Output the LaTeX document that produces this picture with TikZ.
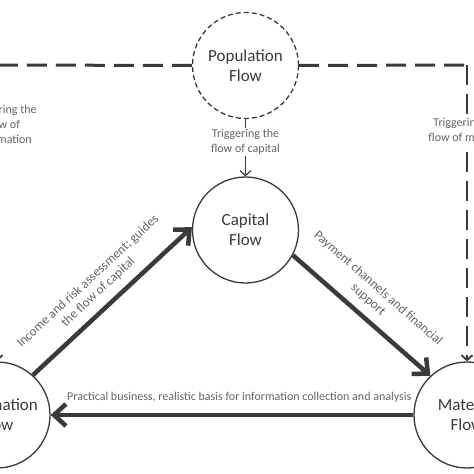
\documentclass[tikz,border=0pt]{standalone}
\usepackage{fontspec}
\setmainfont{Carlito}
\usetikzlibrary{arrows.meta}
\definecolor{flowline}{HTML}{3A3A3A}
\definecolor{flowtext}{HTML}{646464}
\tikzstyle{flow_node}=[circle, draw=flowline, line width=1.3pt, minimum size=106pt, inner sep=0pt, align=center, text=flowline, font=\fontsize{17}{20}\selectfont]
\tikzstyle{flow_dashed}=[flow_node, dash pattern=on 5pt off 3pt]
\tikzstyle{flow_thick}=[draw=flowline, line width=4.5pt, -{Straight Barb[length=12pt,width=22pt]}]
\tikzstyle{flow_trigger}=[draw=flowline, line width=1.2pt, -{Straight Barb[length=5pt,width=11pt]}]
\tikzstyle{flow_link}=[draw=flowline, line width=3pt, dash pattern=on 20pt off 9pt]
\tikzstyle{flow_drop}=[flow_trigger, line width=1.8pt, dash pattern=on 20pt off 9pt]
\tikzstyle{flow_label}=[text=flowtext, align=center, font=\fontsize{12}{15}\selectfont]
\tikzstyle{flow_side}=[flow_label, font=\fontsize{13}{15}\selectfont]

\begin{document}
\begin{tikzpicture}[x=1pt, y=-1pt]
  \useasboundingbox (0,0) rectangle (474,474);
  % flows
  \node[flow_dashed] (pop) at (245.5,65.5){Population\\Flow};
  \node[flow_node] (cap) at (245.5,230){Capital\\Flow};
  \node[flow_node] (info) at (-3,415){Information\\Flow};
  \node[flow_node] (mat) at (467,415){Material\\Flow};
  % triggers from population flow
  \coordinate (info_corner) at (-3,65);
  \coordinate (mat_corner) at (467,65);
  \draw[flow_link] (pop.west) -- (info_corner);
  \draw[flow_drop] (info_corner) -- (info.north);
  \node[flow_label] (info_trigger) at (3,124){Triggering the\\flow of\\information};
  \draw[flow_link] (pop.east) -- (mat_corner);
  \draw[flow_drop] (mat_corner) -- (mat.north)
    node[flow_label, fill=white, pos=0.22]{Triggering the\\flow of material};
  \draw[flow_trigger] (pop.south) -- (cap.north)
    node[flow_label, fill=white, inner sep=1pt, pos=0.4]{Triggering the\\flow of capital};
  % triangle
  \draw[flow_thick] (info.48) -- (cap.177)
    node[flow_side, sloped, above=5pt, pos=0.48]{Income and risk assessment; guides\\the flow of capital};
  \draw[flow_thick] (cap.-28) -- (mat.133)
    node[flow_side, sloped, above=5pt, pos=0.47]{Payment channels and financial\\support};
  \draw[flow_thick] (mat.west) -- (info.east)
    node[flow_side, above=7pt, pos=0.48, font=\fontsize{12}{15}\selectfont]{Practical business, realistic basis for information collection and analysis};
\end{tikzpicture}
\end{document}
